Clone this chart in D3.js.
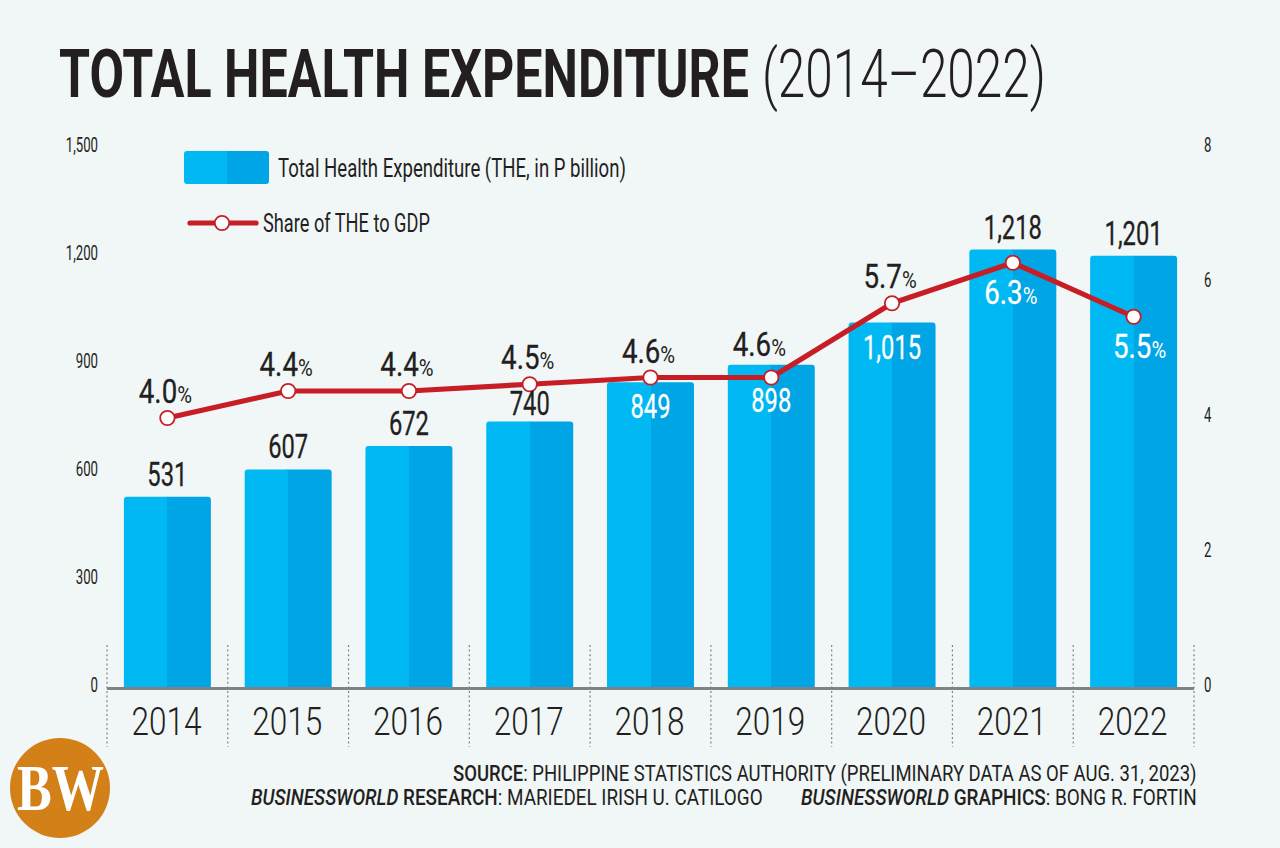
<!DOCTYPE html>
<html>
<head>
<meta charset="utf-8">
<script src="https://cdn.jsdelivr.net/npm/d3@7"></script>
<style>
  html, body { margin: 0; padding: 0; background: #F1F6F7; }
  svg { display: block; }
  text { font-family: Roboto, "Liberation Sans", sans-serif; fill: #231F20; }
</style>
</head>
<body>
<div id="chart"></div>
<script>
// Data
const years = [2014, 2015, 2016, 2017, 2018, 2019, 2020, 2021, 2022];
const theValues = [531, 607, 672, 740, 849, 898, 1015, 1218, 1201];
const shareValues = [4.0, 4.4, 4.4, 4.5, 4.6, 4.6, 5.7, 6.3, 5.5];
const leftTicks = [0, 300, 600, 900, 1200, 1500];
const rightTicks = [0, 2, 4, 6, 8];
const barLabelsInside = [2018, 2019, 2020];
const shareLabelsBelow = [2021, 2022];

const width = 1280;
const height = 848;
const margin = {left: 107, right: 86, top: 148, bottom: 160};
const light = "#00B9F2", dark = "#00A5E5", red = "#C71E26";

const svg = d3.select("#chart").append("svg")
  .attr("width", width)
  .attr("height", height);

svg.append("rect").attr("width", width).attr("height", height).attr("fill", "#F1F6F7");

// Scales
const x = d3.scaleBand().domain(years).range([margin.left, width - margin.right]).paddingInner(0.28).paddingOuter(0.14);
const step = x.step();
const yLeft = d3.scaleLinear().domain([0, 1500]).range([height - margin.bottom, margin.top]);
const yRight = d3.scaleLinear().domain([0, 8]).range([height - margin.bottom, margin.top]);
const base = yLeft(0);
const mid = d => x(d) + x.bandwidth() / 2;

// No condensed face is installed, so text gets squeezed sideways around its anchor
function squeeze(sel, px, py, sx) {
  return sel.attr("transform", `translate(${px},${py}) scale(${sx},1)`);
}
// Same thing, but to a measured width in the picture
function squeezeTo(sel, px, py, w) {
  return squeeze(sel, px, py, w / sel.node().getComputedTextLength());
}

// Title
squeezeTo(svg.append("text").attr("font-size", 66).attr("font-weight", 700)
  .text("TOTAL HEALTH EXPENDITURE"), 59, 97, 690);
squeezeTo(svg.append("text").attr("font-size", 66).attr("font-weight", 300)
  .text("(2014\u20132022)"), 762, 97, 284);

// Dotted separators
svg.append("g").selectAll("line")
  .data(d3.range(years.length + 1))
  .join("line")
    .attr("x1", i => margin.left + i * step)
    .attr("x2", i => margin.left + i * step)
    .attr("y1", 645)
    .attr("y2", 747)
    .attr("stroke", "#808285")
    .attr("stroke-width", 1.2)
    .attr("stroke-dasharray", "2 2.6");

// Bars, two tone
function halfBar(x0, x1, top, bottom, roundLeft) {
  const r = 3, p = d3.path();
  if (roundLeft) {
    p.moveTo(x0, bottom); p.lineTo(x0, top + r);
    p.arcTo(x0, top, x0 + r, top, r);
    p.lineTo(x1, top); p.lineTo(x1, bottom);
  } else {
    p.moveTo(x0, bottom); p.lineTo(x0, top);
    p.lineTo(x1 - r, top);
    p.arcTo(x1, top, x1, top + r, r);
    p.lineTo(x1, bottom);
  }
  p.closePath();
  return p.toString();
}

const bars = svg.append("g").selectAll("g")
  .data(years)
  .join("g");
bars.append("path")
  .attr("fill", dark)
  .attr("d", (d, i) => halfBar(Math.round(mid(d)) - 1, x(d) + x.bandwidth(), yLeft(theValues[i]), base, false));
bars.append("path")
  .attr("fill", light)
  .attr("d", (d, i) => halfBar(x(d), Math.round(mid(d)), yLeft(theValues[i]), base, true));

// Baseline
svg.append("line")
  .attr("x1", margin.left).attr("x2", width - margin.right)
  .attr("y1", base + 0.5).attr("y2", base + 0.5)
  .attr("stroke", "#808285").attr("stroke-width", 3);

// Axes
const gLeft = svg.append("g")
  .attr("transform", "translate(98,0)")
  .call(d3.axisLeft(yLeft).tickValues(leftTicks).tickSize(0).tickPadding(0).tickFormat(d3.format(",")));
const gRight = svg.append("g")
  .attr("transform", "translate(1204,0)")
  .call(d3.axisRight(yRight).tickValues(rightTicks).tickSize(0).tickPadding(0));
const gBottom = svg.append("g")
  .attr("transform", `translate(0,${base})`)
  .call(d3.axisBottom(x).tickSize(0).tickPadding(0));
[gLeft, gRight, gBottom].forEach(g => g.select(".domain").remove());
gLeft.selectAll("text").attr("font-size", 20).attr("dy", "0.17em")
  .attr("transform", "scale(0.66,1)");
gRight.selectAll("text").attr("font-size", 20).attr("dy", "0.17em")
  .attr("transform", "scale(0.66,1)");
gBottom.selectAll("text").attr("font-size", 38).attr("font-weight", 300).attr("dy", 0).attr("y", 0)
  .attr("transform", "translate(-1,47) scale(0.83,1)");

// Line
const line = d3.line()
  .x((d, i) => mid(years[i]))
  .y(d => yRight(d));
svg.append("path")
  .datum(shareValues)
  .attr("d", line)
  .attr("fill", "none")
  .attr("stroke", red)
  .attr("stroke-width", 5.2)
  .attr("stroke-linejoin", "round");
svg.append("g").selectAll("circle")
  .data(shareValues)
  .join("circle")
    .attr("cx", (d, i) => mid(years[i]))
    .attr("cy", d => yRight(d))
    .attr("r", 7.2)
    .attr("fill", "#fff")
    .attr("stroke", red)
    .attr("stroke-width", 1.8);

// Bar value labels, 2019 and 2017 sit lower to clear the line
svg.append("g").selectAll("text")
  .data(years)
  .join("text")
    .attr("text-anchor", "middle")
    .attr("font-size", 33)
    .attr("transform", (d, i) => {
      const off = d === 2019 ? 47 : d === 2017 ? -7 : barLabelsInside.includes(d) ? 36 : -11;
      return `translate(${mid(d)},${yLeft(theValues[i]) + off}) scale(0.72,1)`;
    })
    .style("fill", d => barLabelsInside.includes(d) ? "#fff" : "#231F20")
    .style("stroke", d => barLabelsInside.includes(d) ? "#fff" : "#231F20")
    .style("stroke-width", 0.3)
    .text((d, i) => d3.format(",")(theValues[i]));

// Share labels, % sign set smaller
const shareLabels = svg.append("g").selectAll("text")
  .data(years)
  .join("text")
    .attr("text-anchor", "middle")
    .attr("font-size", 33)
    .attr("transform", (d, i) => {
      const dx = d === 2019 ? -12 : d === 2022 ? 6 : -2;
      const dy = d === 2019 ? -22 : shareLabelsBelow.includes(d) ? 41 : -15;
      return `translate(${mid(d) + dx},${yRight(shareValues[i]) + dy}) scale(0.84,1)`;
    })
    .style("fill", d => shareLabelsBelow.includes(d) ? "#fff" : "#231F20")
    .style("stroke", d => shareLabelsBelow.includes(d) ? "#fff" : "#231F20")
    .style("stroke-width", 0.3)
    .text((d, i) => shareValues[i].toFixed(1));
shareLabels.append("tspan")
  .attr("font-size", 24)
  .style("stroke", "none")
  .text("%");

// Legend
const legend = svg.append("g");
svg.append("clipPath").attr("id", "legend-round")
  .append("rect").attr("x", 184).attr("y", 151).attr("width", 85).attr("height", 33).attr("rx", 3);
const swatch = legend.append("g").attr("clip-path", "url(#legend-round)");
swatch.append("rect").attr("x", 184).attr("y", 151).attr("width", 43).attr("height", 33).attr("fill", light);
swatch.append("rect").attr("x", 227).attr("y", 151).attr("width", 42).attr("height", 33).attr("fill", dark);
squeezeTo(legend.append("text").attr("font-size", 25)
  .text("Total Health Expenditure (THE, in P billion)"), 278, 177, 348);
legend.append("line")
  .attr("x1", 190).attr("x2", 256).attr("y1", 223).attr("y2", 223)
  .attr("stroke", red).attr("stroke-width", 5.2).attr("stroke-linecap", "round");
legend.append("circle")
  .attr("cx", 222).attr("cy", 223).attr("r", 7.2)
  .attr("fill", "#fff").attr("stroke", red).attr("stroke-width", 1.8);
squeezeTo(legend.append("text").attr("font-size", 25)
  .text("Share of THE to GDP"), 263, 232, 167);

// Source lines
const source1 = svg.append("text").attr("font-size", 22);
source1.append("tspan").attr("font-weight", 500).text("SOURCE");
source1.append("tspan").text(": PHILIPPINE STATISTICS AUTHORITY (PRELIMINARY DATA AS OF AUG. 31, 2023)");
squeezeTo(source1, 453, 781, 744);
const source2 = svg.append("text").attr("font-size", 22);
source2.append("tspan").attr("font-weight", 500).attr("font-style", "italic").text("BUSINESSWORLD");
source2.append("tspan").attr("font-weight", 500).text(" RESEARCH");
source2.append("tspan").text(": MARIEDEL IRISH U. CATILOGO");
squeezeTo(source2, 251, 805, 512);
const source3 = svg.append("text").attr("font-size", 22);
source3.append("tspan").attr("font-weight", 500).attr("font-style", "italic").text("BUSINESSWORLD");
source3.append("tspan").attr("font-weight", 500).text(" GRAPHICS");
source3.append("tspan").text(": BONG R. FORTIN");
squeezeTo(source3, 801, 805, 396);

// Logo
svg.append("circle").attr("cx", 60).attr("cy", 788).attr("r", 50).attr("fill", "#D48019");
squeezeTo(svg.append("text")
  .attr("font-size", 65).attr("font-weight", 700)
  .style("font-family", "'Liberation Serif', serif").style("fill", "#fff")
  .text("BW"), 17, 810, 87);
</script>
</body>
</html>
